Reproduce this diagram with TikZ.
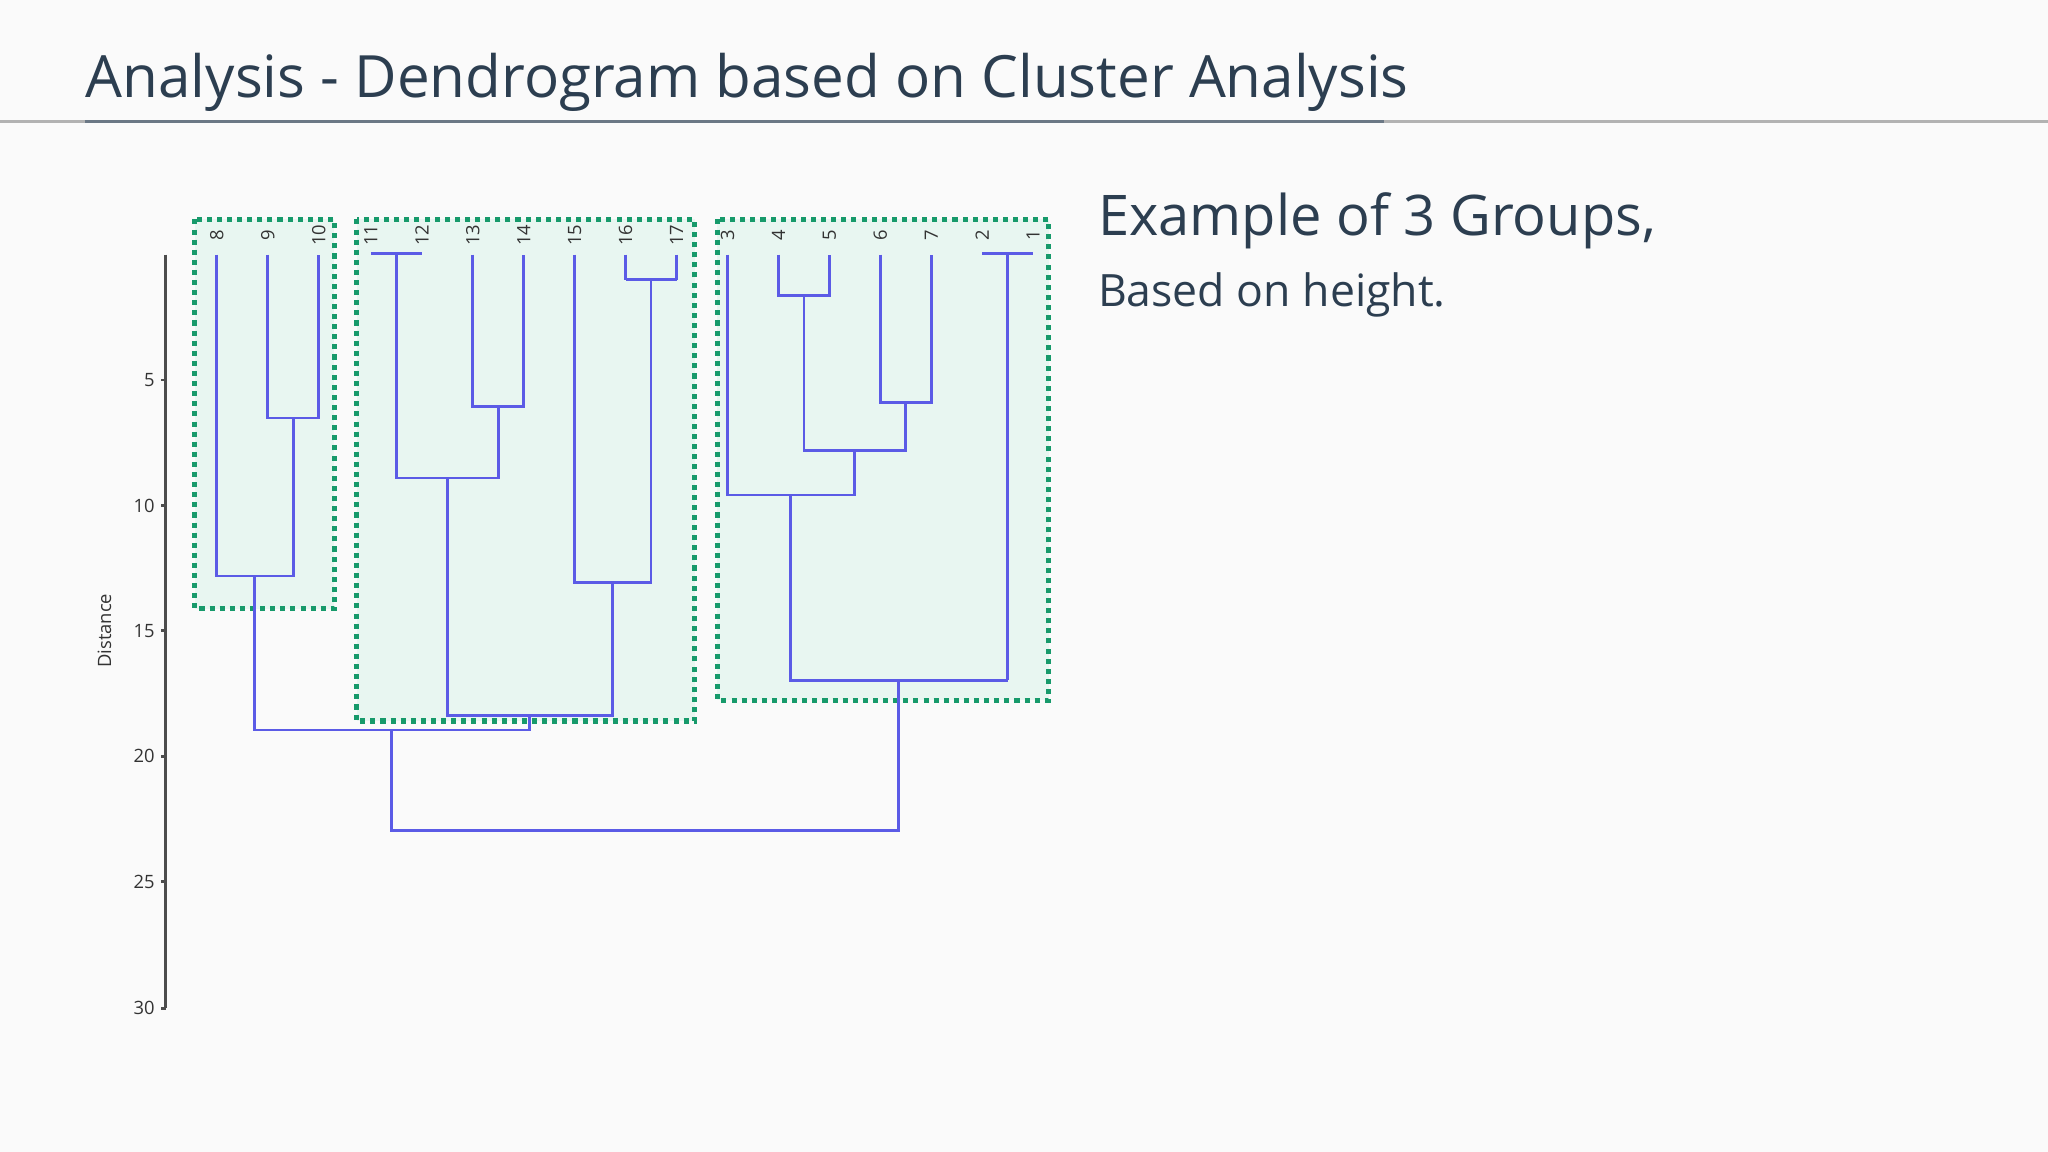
\documentclass[tikz,border=0pt]{standalone}
\usepackage{fontspec}
\setmainfont{Open Sans}
\definecolor{titleblue}{HTML}{2C3E50}
\definecolor{linkblue}{HTML}{5B5BE6}
\definecolor{boxgreen}{HTML}{179A6B}
\definecolor{boxfill}{HTML}{E8F6F1}
\tikzset{
  link/.style={linkblue,line width=0.6pt},
  group/.style={boxgreen,line width=1.1pt,dash pattern=on 1.1pt off 1.1pt,fill=boxfill},
  leaf/.style={rotate=90,font=\fontsize{4}{5}\selectfont,text=black!80,inner sep=0pt},
  tick/.style={left,font=\fontsize{4}{5}\selectfont,text=black!80,inner sep=1pt}
}
\begin{document}
\begin{tikzpicture}[x=0.01cm,y=-0.01cm]
\useasboundingbox (0,0) rectangle (1568,882);
\fill[white!98!black] (0,0) rectangle (1568,882);

% title
\node[anchor=base west,inner sep=0pt,text=titleblue,font=\fontsize{12.7}{15}\selectfont] (title) at (65,75) {Analysis - Dendrogram based on Cluster Analysis};
\draw[black!30,line width=0.6pt] (0,93) -- (1568,93);
\draw[titleblue!70,line width=0.6pt] (65,93) -- (1060,93);

% groups
\draw[group] (149,168) rectangle (256,466);
\draw[group] (273,168) rectangle (532,552);
\draw[group] (549,168) rectangle (803,536);

% axis
\draw[black!70,line width=0.6pt] (127,195) -- (127,772);
\foreach \v/\y in {5/291,10/387,15/483,20/579,25/675,30/772}
  \draw[black!70,line width=0.6pt] (127,\y) -- (123,\y) node[tick] {\v};
\node[rotate=90,font=\fontsize{4}{5}\selectfont,text=black!80] (dist) at (80,483) {Distance};

% leaves
\foreach \n/\x in {8/166,9/205,10/244,11/284,12/323,13/362,14/401,15/440,16/479,17/518,3/557,4/596,5/635,6/674,7/713,2/752,1/791}
  \node[leaf] (l\n) at (\x,180) {\n};

% links
\draw[link] (205,195) |- (244,320) -- (244,195);
\draw[link] (166,195) |- (224.5,441) -- (224.5,320);
\draw[link] (362,195) |- (401,311) -- (401,195);
\draw[link] (284,194) -- (323,194);
\draw[link] (303.5,194) |- (381.5,366) -- (381.5,311);
\draw[link] (479,214) -- (518,214);
\draw[link] (479,195) -- (479,214);
\draw[link] (518,195) -- (518,214);
\draw[link] (440,195) |- (498.5,446) -- (498.5,214);
\draw[link] (342.5,366) |- (469,548) -- (469,446);
\draw[link] (195,441) |- (405.5,559) -- (405.5,548);
\draw[link] (596,195) |- (635,226) -- (635,195);
\draw[link] (674,195) |- (713,308) -- (713,195);
\draw[link] (615.5,226) |- (693.5,345) -- (693.5,308);
\draw[link] (557,195) |- (654.5,379) -- (654.5,345);
\draw[link] (752,194) -- (791,194);
\draw[link] (771.5,194) -- (771.5,521);
\draw[link] (605.5,379) |- (771.5,521);
\draw[link] (300,559) |- (688,636) -- (688,521);

% side text
\node[anchor=base west,inner sep=0pt,text=titleblue,font=\fontsize{12.2}{15}\selectfont] (ex) at (840,180) {Example of 3 Groups,};
\node[anchor=base west,inner sep=0pt,text=titleblue,font=\fontsize{9.7}{12}\selectfont] (based) at (840,235) {Based on height.};
\end{tikzpicture}
\end{document}
